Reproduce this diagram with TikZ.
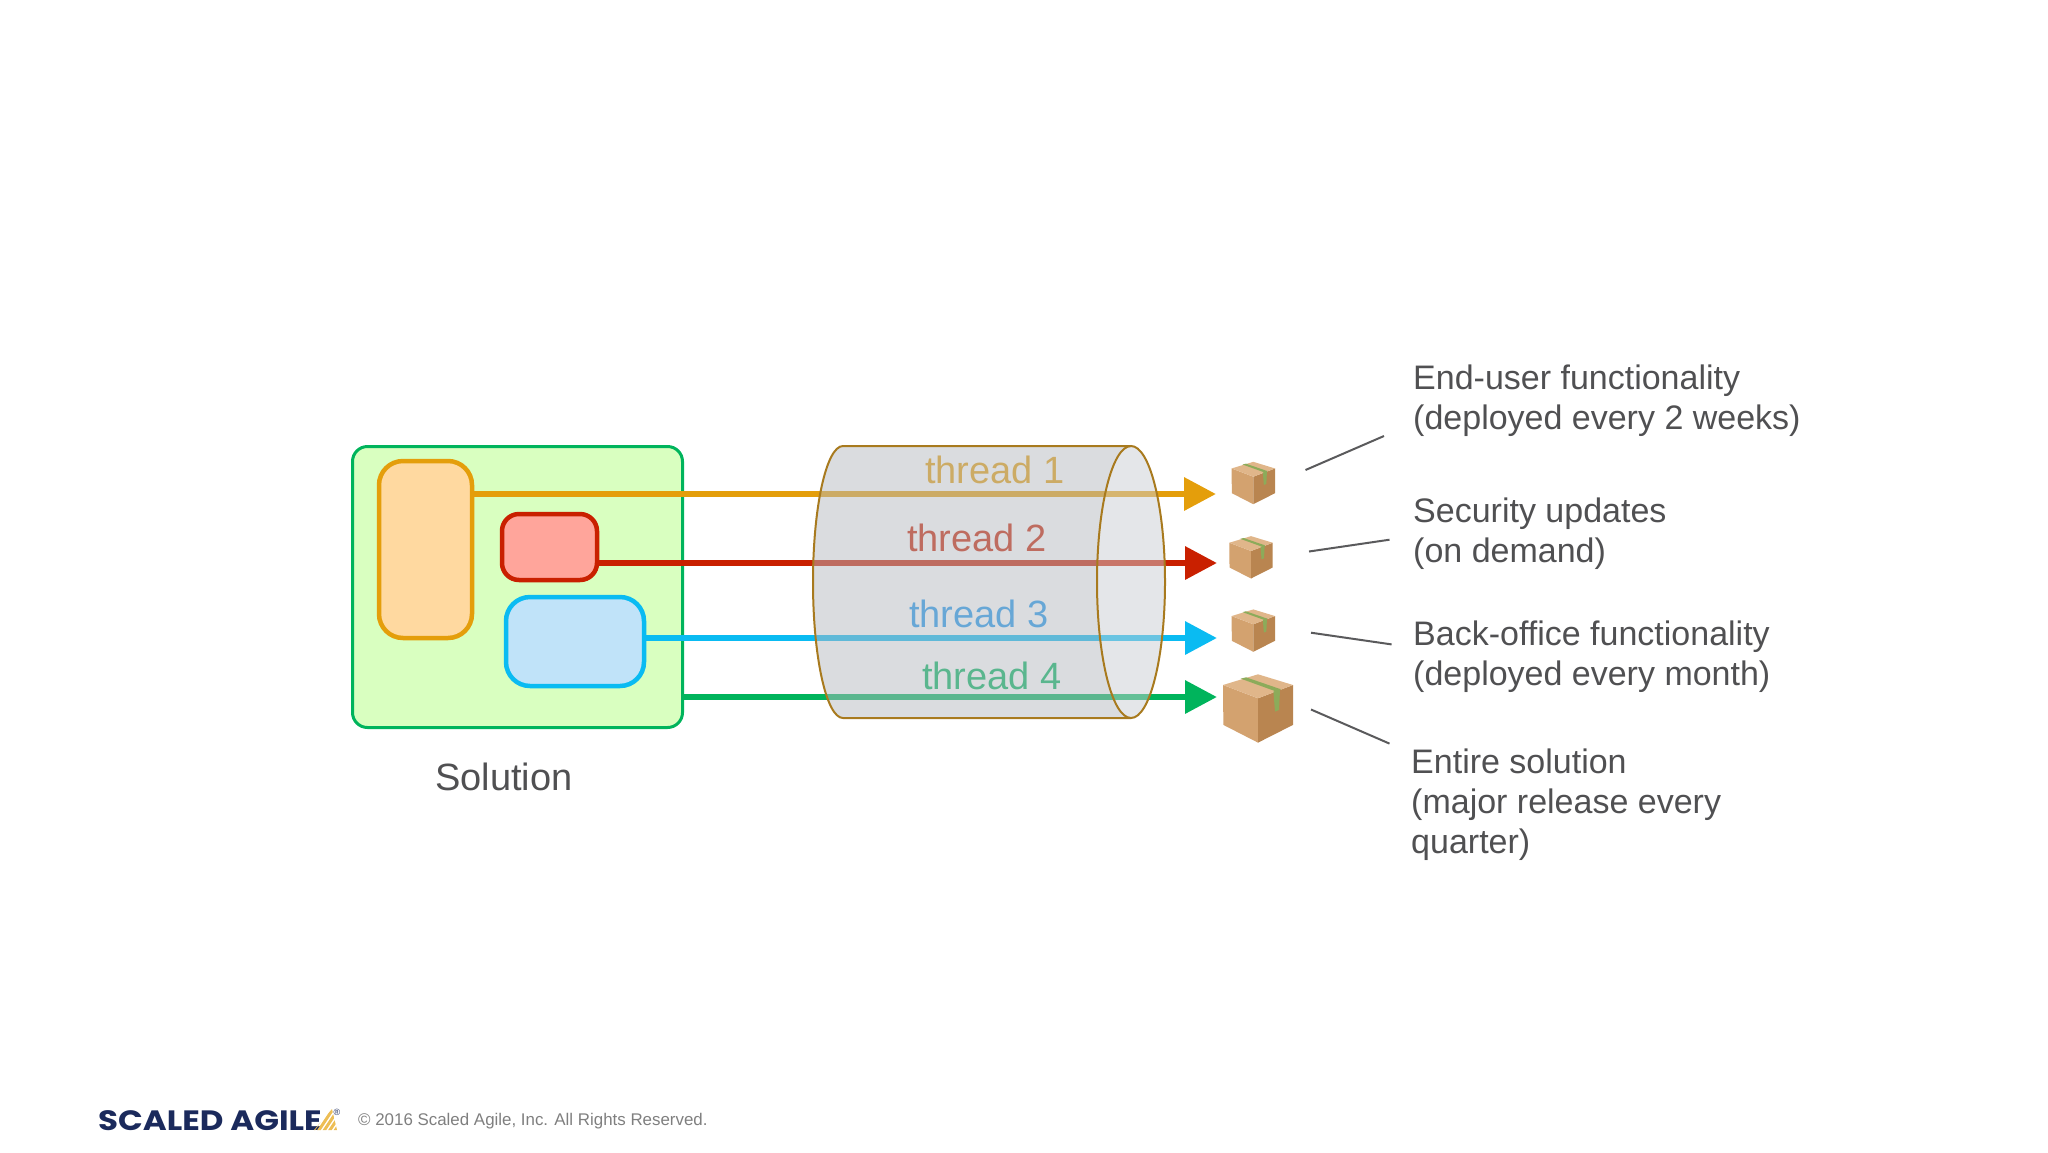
\documentclass[tikz,border=0pt]{standalone}
\usepackage{fontspec}
\setmainfont{Liberation Sans}
\newfontfamily\logofont{Poppins}[FakeStretch=1.16]
\usetikzlibrary{arrows.meta}
\definecolor{txtgray}{HTML}{505052}
\definecolor{leadgray}{HTML}{5A5A5C}
\definecolor{cgreen}{HTML}{00B45C}
\definecolor{corange}{HTML}{E49E0B}
\definecolor{cred}{HTML}{C92000}
\definecolor{cblue}{HTML}{0ABBF2}
\definecolor{tblue}{HTML}{1A95ED}
\definecolor{cylline}{HTML}{A87A1E}
\definecolor{cylbody}{HTML}{B5B9C0}
\definecolor{cylend}{HTML}{C9CDD3}
\definecolor{navy}{HTML}{1B2A5C}
\definecolor{boxtop}{HTML}{E0B68A}
\definecolor{boxleft}{HTML}{D3A26F}
\definecolor{boxright}{HTML}{B98550}
\definecolor{tape}{HTML}{8CAB5A}
\definecolor{hatch}{HTML}{EDBE55}
\definecolor{solfill}{HTML}{D9FFC0}
\definecolor{afill}{HTML}{FFD9A0}
\definecolor{bfill}{HTML}{FFA59B}
\definecolor{cfill}{HTML}{C0E3F9}
\definecolor{copygray}{HTML}{7F7F7F}
\tikzset{
  x=1pt,y=-1pt,
  comp/.style={draw,line width=4.5pt,inner sep=0pt,outer sep=0pt},
  thread/.style={line width=6.5pt,-{Triangle[length=32pt,width=32pt]}},
  threadtxt/.style={anchor=base west,inner sep=0pt,font=\fontsize{38}{38}\selectfont},
  desc/.style={anchor=base west,inner sep=0pt,align=left,text=txtgray,font=\fontsize{34}{40}\selectfont},
  leader/.style={draw=leadgray,line width=2pt},
  pics/parcel/.style={code={
    \begin{scope}[x=#1,y=-#1]
    \fill[boxleft]  (0,0)--(-1,-.38)--(-.99,.76)--(0,1.267)--cycle;
    \fill[boxright] (0,0)--(1,-.38)--(1,.76)--(0,1.267)--cycle;
    \fill[boxtop]   (0,0)--(-1,-.38)--(0,-.686)--(1,-.38)--cycle;
    \fill[tape] (-.495,-.562)--(-.343,-.6)--(.657,-.257)--(.505,-.2)--cycle;
    \fill[tape] (.44,-.19)--(.63,-.267)--(.6,.333)--(.486,.381)--cycle;
    \end{scope}
  }}
}
\begin{document}
\begin{tikzpicture}
\useasboundingbox (0,0) rectangle (2048,1152);
% solution and components
\node[comp,name=sol,draw=cgreen,line width=3pt,fill=solfill,
  rounded corners=15pt,minimum width=330pt,minimum height=281pt] at (517.5,587) {};
\node[comp,name=cA,draw=corange,fill=afill,rounded corners=24pt,minimum width=93pt,minimum height=177pt] at (425.5,549.5) {};
\node[comp,name=cB,draw=cred,fill=bfill,rounded corners=17pt,minimum width=95pt,minimum height=66pt] at (549.5,547) {};
\node[comp,name=cC,draw=cblue,fill=cfill,rounded corners=24pt,minimum width=138pt,minimum height=89pt] at (575,641.5) {};
\node[anchor=base west,inner sep=0pt,text=txtgray,font=\fontsize{38}{38}\selectfont] (sollab) at (435,790) {Solution};
% thread ends
\coordinate (t1) at (1216,494);
\coordinate (t2) at (1217,563);
\coordinate (t3) at (1217,638);
\coordinate (t4) at (1217,697);
\draw[thread,corange] (cA.east |- t1) -- (t1);
\draw[thread,cred] (cB.east |- t2) -- (t2);
\draw[thread,cblue] (cC.east |- t3) -- (t3);
\draw[thread,cgreen] (sol.east |- t4) -- (t4);
% thread labels, seen through the cylinder
\node[threadtxt,text=corange] (l1) at (925,483) {thread 1};
\node[threadtxt,text=cred] (l2) at (907,551) {thread 2};
\node[threadtxt,text=tblue] (l3) at (909,627) {thread 3};
\node[threadtxt,text=cgreen] (l4) at (922,689) {thread 4};
% cylinder
\fill[cylbody,fill opacity=.5] (1131,446) -- (843,446)
  .. controls (826.4,446) and (813,507) .. (813,582)
  .. controls (813,657) and (826.4,718) .. (843,718) -- (1131,718)
  .. controls (1112.2,718) and (1097,657) .. (1097,582)
  .. controls (1097,507) and (1112.2,446) .. (1131,446) -- cycle;
\fill[cylend,fill opacity=.5] (1131,582) ellipse [x radius=34,y radius=136];
\draw[cylline,line width=2pt] (1131,446) -- (843,446)
  .. controls (826.4,446) and (813,507) .. (813,582)
  .. controls (813,657) and (826.4,718) .. (843,718) -- (1131,718);
\draw[cylline,line width=2pt] (1131,582) ellipse [x radius=34,y radius=136];
% parcels
\pic at (1253.3,476.7) {parcel=21.7pt};
\pic at (1251,551) {parcel=21.7pt};
\pic at (1253.3,624.3) {parcel=21.7pt};
\pic at (1258,698.3) {parcel=35pt};
% descriptions
\node[desc] (d1) at (1413,429.5) {End-user functionality\\(deployed every 2 weeks)};
\node[desc] (d2) at (1413,562) {Security updates\\(on demand)};
\node[desc] (d3) at (1413,685) {Back-office functionality\\(deployed every month)};
\node[desc] (d4) at (1411,853) {Entire solution\\(major release every\\quarter)};
\coordinate (a1) at (1305.5,470); \coordinate (b1) at (1384,436);
\coordinate (a2) at (1309,551.5); \coordinate (b2) at (1389.5,539.7);
\coordinate (a3) at (1311,632.7); \coordinate (b3) at (1391.6,644.4);
\coordinate (a4) at (1311,709.5); \coordinate (b4) at (1389.5,743.6);
\draw[leader] (a1) -- (b1);
\draw[leader] (a2) -- (b2);
\draw[leader] (a3) -- (b3);
\draw[leader] (a4) -- (b4);
% footer
\node[anchor=base west,inner sep=0pt,text=navy,font=\logofont\bfseries\fontsize{28}{28}\selectfont] (logo) at (98,1130) {SCALED AGILE};
\begin{scope}
\clip (314,1130) -- (332,1109) -- (337,1130) -- cycle;
\foreach \i in {0,...,7} {
  \draw[hatch,line width=3pt] (306+\i*5.5,1133) -- ++(16,-24);
}
\end{scope}
\node[anchor=center,inner sep=0pt,text=navy,font=\fontsize{9}{9}\selectfont] (reg) at (337,1112) {®};
\node[anchor=base west,inner sep=0pt,text=copygray,font=\fontsize{16.9}{17}\selectfont] (copy) at (358,1125) {© 2016 Scaled Agile, Inc. All Rights Reserved.};
\end{tikzpicture}
\end{document}
